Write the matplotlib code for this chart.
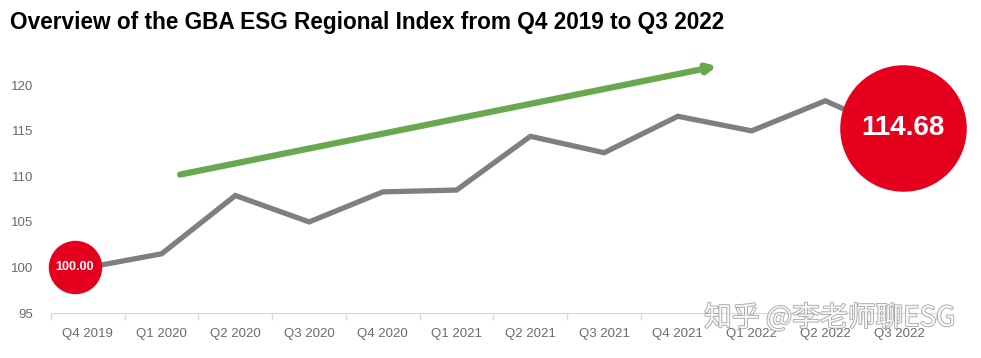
import matplotlib.pyplot as plt
import matplotlib.patheffects as pe
import matplotlib.transforms as mtransforms
import numpy as np

plt.rcParams['font.family'] = ['Liberation Sans', 'DejaVu Sans']

quarters = ['Q4 2019', 'Q1 2020', 'Q2 2020', 'Q3 2020', 'Q4 2020', 'Q1 2021',
            'Q2 2021', 'Q3 2021', 'Q4 2021', 'Q1 2022', 'Q2 2022', 'Q3 2022']
index_values = [100.00, 101.5, 107.9, 105.0, 108.3, 108.5,
                114.4, 112.6, 116.6, 115.0, 118.3, 114.68]
trend_x = [1.25, 8.53]
trend_y = [110.2, 122.1]
yticks = [95, 100, 105, 110, 115, 120]

fig = plt.figure(figsize=(9.81, 3.58), dpi=100)
ax = fig.add_axes([51 / 981, 45 / 358, (936 - 51) / 981, (300 - 45) / 358])

x = np.arange(len(quarters))
ax.plot(x, index_values, color='#7f7f7f', lw=3.8, solid_joinstyle='miter', zorder=2)

# trend arrow
ax.annotate('', xy=(trend_x[1], trend_y[1]), xytext=(trend_x[0], trend_y[0]),
            arrowprops=dict(arrowstyle='-|>,head_length=0.5,head_width=0.25',
                            color='#6aa84f', lw=4.5, shrinkA=0, shrinkB=0),
            zorder=3)

# start / end bubbles
red = '#e5001e'
shift_l = mtransforms.offset_copy(ax.transData, fig=fig, x=-13, y=0, units='dots')
shift_r = mtransforms.offset_copy(ax.transData, fig=fig, x=4, y=6, units='dots')
ax.scatter([x[0]], [index_values[0]], s=1480, color=red, zorder=4, lw=0, transform=shift_l)
ax.text(x[0], index_values[0], f'{index_values[0]:.2f}', color='white', transform=shift_l,
        fontsize=9, fontweight='bold', ha='center', va='center', zorder=5)
ax.scatter([x[-1]], [index_values[-1]], s=8300, color=red, zorder=4, lw=0, transform=shift_r)
ax.text(x[-1], index_values[-1], f'{index_values[-1]:.2f}', color='white', transform=shift_r,
        fontsize=20, fontweight='bold', ha='center', va='center', zorder=5)

ax.set_xlim(-0.5, len(quarters) - 0.5)
ax.set_ylim(95, 123)
ax.set_xticks(x)
ax.set_xticklabels(quarters)
ax.set_xticks(np.arange(-0.5, len(quarters)), minor=True)
ax.tick_params(axis='x', which='major', length=0, pad=11, labelsize=9.5, labelcolor='#6b6b6b')
ax.tick_params(axis='x', which='minor', length=5, color='#d9d9d9', width=1)
ax.set_yticks(yticks)
ax.tick_params(axis='y', length=0, pad=13, labelsize=9.5, labelcolor='#6b6b6b')

for side in ['top', 'right', 'left']:
    ax.spines[side].set_visible(False)
ax.spines['bottom'].set_color('#d9d9d9')
ax.spines['bottom'].set_zorder(1)
for art in ax.collections + ax.lines + ax.texts:
    art.set_clip_on(False)

fig.text(10 / 981, 1 - 22 / 358, 'Overview of the GBA ESG Regional Index from Q4 2019 to Q3 2022',
         fontsize=16.3, fontweight='bold', ha='left', va='center', color='black')

# watermark
fig.text(955 / 981, 1 - 318 / 358, '知乎 @李老师聊ESG', fontsize=20,
         family=['Noto Sans CJK SC', 'DejaVu Sans'], ha='right', va='center',
         color='white', alpha=0.9,
         path_effects=[pe.withStroke(linewidth=1.2, foreground='#9a9a9a')])

plt.savefig('out.png', dpi=100)
